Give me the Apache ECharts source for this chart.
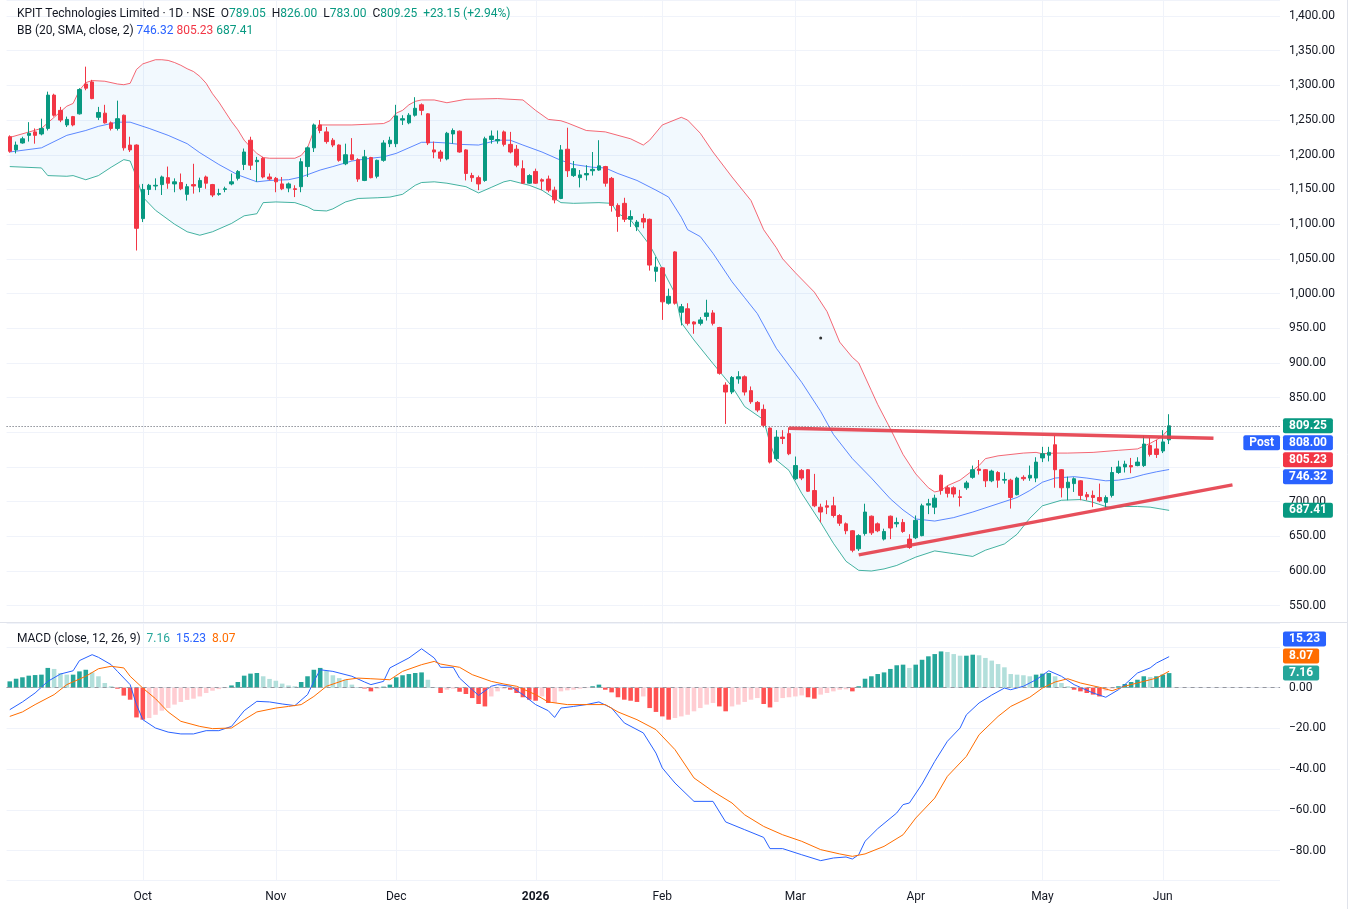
<!DOCTYPE html>
<html>
<head>
<meta charset="utf-8">
<title>KPIT Technologies Limited · 1D · NSE</title>
<script src="https://cdn.jsdelivr.net/npm/echarts@6/dist/echarts.min.js"></script>
<style>
  html, body { margin: 0; padding: 0; background: #ffffff; }
  #chart { width: 1357px; height: 909px; }
</style>
</head>
<body>
<div id="chart"></div>
<script>
const FONT = 'Roboto, "Noto Sans", sans-serif'
const UP = '#089981'
const DOWN = '#F23645'
const BLUE = '#2962FF'
const ORANGE = '#FF6D00'
const GRID = '#f0f3fa'
const TEXT = '#131722'

// ---- data (bar numbers are 1-based trading days, Sep 2 2025 .. Jun 2 2026) ----
const categoryCount = 201 // 184 bars + empty space on the right
const monthTicks = [[22, 'Oct'], [43, 'Nov'], [62, 'Dec'], [84, '2026'], [104, 'Feb'], [125, 'Mar'], [144, 'Apr'], [164, 'May'], [183, 'Jun']]

const opens = [1226,1207,1217,1228,1233,1230,1238,1286,1264,1243,
  1255,1259,1302,1305,1254,1260,1246,1238,1257,1214,
  1214,1108,1150,1155,1157,1167,1158,1160,1143,1157,
  1153,1168,1157,1143,1150,1158,1166,1186,1221,1190,
  1195,1168,1166,1158,1152,1151,1154,1183,1210,1243,
  1233,1221,1214,1187,1200,1193,1163,1196,1169,1192,
  1216,1216,1250,1246,1257,1272,1259,1207,1204,1194,
  1230,1234,1207,1170,1167,1163,1222,1220,1233,1215,
  1208,1180,1159,1176,1164,1165,1149,1137,1208,1170,
  1167,1171,1177,1178,1183,1166,1127,1130,1107,1096,
  1108,1107,1032,1037,986,1060,973,978,959,957,
  967,972,951,868,858,877,880,860,843,833,
  806,762,793,798,733,745,746,716,692,694,
  694,680,668,658,632,654,679,668,646,679,
  668,670,646,648,651,695,692,738,720,720,
  707,720,735,747,746,730,742,731,731,710,
  735,734,734,763,767,782,746,720,726,730,
  710,709,706,699,709,742,750,752,752,752,
  781,776,773,789.05]
const closes = [1205,1214,1223,1231,1228,1238,1286,1257,1250,1251,
  1243,1294,1296,1281,1261,1246,1238,1252,1210,1207,
  1094,1150,1156,1156,1168,1159,1161,1151,1154,1155,
  1163,1159,1142,1144,1151,1161,1176,1204,1185,1192,
  1168,1165,1161,1151,1158,1150,1190,1210,1243,1235,
  1219,1214,1192,1200,1193,1165,1197,1167,1192,1217,
  1221,1256,1252,1257,1267,1264,1217,1204,1195,1231,
  1235,1204,1173,1167,1158,1223,1227,1222,1215,1204,
  1185,1159,1170,1159,1162,1149,1135,1207,1177,1180,
  1171,1173,1179,1184,1159,1127,1111,1107,1111,1103,
  1103,1041,1038,988,996,986,981,957,956,962,
  972,957,885,858,879,880,858,844,832,810,
  757,793,791,769,752,734,715,694,685,692,
  680,669,658,630,651,685,655,658,657,662,
  670,657,634,673,694,697,705,716,712,711,
  706,727,746,745,730,744,731,732,706,734,
  733,738,757,769,771,746,720,728,733,709,
  707,706,701,706,742,750,754,750,757,783,
  768,768,786.1,809.25]
const lows = [1203,1202,1216,1219,1216,1228,1235,1255,1247,1240,
  1241,1258,1293,1280,1250,1245,1235,1235,1206,1204,
  1062,1103,1142,1149,1142,1151,1146,1149,1134,1144,
  1146,1151,1139,1141,1146,1156,1163,1178,1178,1161,
  1166,1163,1146,1149,1146,1139,1146,1168,1204,1231,
  1216,1211,1190,1185,1192,1161,1162,1166,1166,1190,
  1211,1211,1243,1244,1255,1257,1214,1195,1190,1192,
  1216,1203,1163,1161,1149,1161,1216,1216,1212,1202,
  1182,1158,1158,1158,1149,1146,1130,1136,1168,1168,
  1153,1163,1170,1177,1154,1118,1089,1103,1096,1090,
  1094,1033,1017,962,984,984,954,954,942,954,
  961,954,883,812,855,870,853,841,829,807,
  755,759,783,767,731,731,714,692,670,682,
  677,665,653,627,629,651,652,656,644,646,
  663,655,632,646,650,682,682,710,706,706,
  693,717,733,739,721,728,720,726,690,709,
  730,730,728,757,758,720,706,702,714,702,
  702,692,699,690,706,740,742,741,751,750,
  765,763,770,783]
const highs = [1228,1219,1226,1247,1238,1252,1291,1288,1269,1255,
  1256,1296,1327,1308,1269,1272,1248,1278,1258,1226,
  1215,1158,1158,1166,1170,1183,1166,1173,1158,1187,
  1167,1170,1158,1151,1154,1173,1178,1209,1226,1197,
  1197,1173,1168,1168,1160,1156,1195,1212,1245,1250,
  1240,1224,1215,1216,1224,1195,1207,1197,1193,1221,
  1226,1272,1257,1260,1283,1274,1260,1219,1207,1233,
  1238,1235,1208,1174,1170,1226,1235,1235,1235,1233,
  1214,1192,1172,1180,1166,1170,1154,1214,1239,1191,
  1178,1185,1204,1221,1184,1168,1130,1138,1120,1106,
  1115,1108,1053,1038,1007,1061,985,986,960,966,
  991,976,952,872,881,888,882,866,845,840,
  807,803,803,807,765,747,747,740,697,702,
  707,682,670,659,653,697,680,670,661,680,
  677,675,653,680,697,704,710,739,723,722,
  717,730,752,760,747,746,744,742,733,736,
  738,752,764,779,779,795,747,736,735,731,
  714,716,726,709,750,759,759,763,764,795,
  792,789,803,826]
const postPrice = 808.00

// Bollinger Bands (20, SMA, 2): [bar, value]
const bbUpper = [[1,1225],[6,1238],[10,1270],[11,1274],[12,1293],[13,1304],[14,1307],[16,1306],[18,1302],[19,1301],
  [20,1303],[21,1323],[22,1331],[23,1334],[24,1337],[25,1337],[26,1336],[27,1333],[28,1329],[29,1324],
  [30,1320],[31,1313],[32,1303],[33,1288],[34,1276],[35,1262],[36,1248],[37,1236],[38,1221],[39,1211],
  [40,1202],[41,1196],[42,1195],[46,1195],[47,1199],[48,1210],[49,1235],[50,1243],[55,1243],[60,1245],
  [61,1249],[62,1260],[63,1264],[64,1272],[65,1277],[66,1279],[68,1279],[70,1275],[73,1280],[78,1281],
  [82,1279],[84,1264],[86,1251],[88,1249],[89,1246],[92,1235],[95,1233],[99,1223],[101,1214],[102,1221],
  [104,1243],[107,1254],[108,1250],[110,1231],[112,1204],[115,1168],[118,1134],[120,1092],[122,1066],[123,1050],
  [125,1030],[128,1002],[130,974],[132,930],[134,908],[135,900],[137,860],[138,840],[140,805],[142,768],
  [144,740],[146,720],[147,714],[148,716],[149,723],[151,731],[154,752],[155,762],[157,766],[161,770],
  [163,771],[164,769],[166,770],[168,770],[172,771],[176,774],[179,776],[181,784],[182,789],[183,795],[184,805.23]]
const bbBasis = [[1,1204],[6,1210],[10,1228],[13,1235],[15,1241],[18,1247],[20,1247],[23,1238],[26,1228],[29,1216],
  [31,1203],[34,1186],[37,1171],[40,1161],[42,1163],[45,1164],[47,1168],[50,1178],[52,1183],[55,1191],
  [58,1195],[60,1197],[62,1202],[64,1210],[66,1218],[68,1218],[70,1217],[72,1215],[75,1214],[78,1221],
  [80,1221],[82,1214],[85,1204],[88,1192],[90,1186],[93,1182],[95,1181],[97,1173],[100,1163],[103,1149],
  [105,1139],[107,1110],[108,1092],[110,1082],[112,1058],[115,1017],[117,994],[119,971],[122,921],[126,872],
  [129,830],[131,797],[134,762],[137,734],[140,704],[142,688],[144,675],[147,672],[150,677],[153,685],
  [157,697],[160,706],[162,716],[164,728],[166,734],[169,736],[171,734],[174,730],[176,731],[178,734],
  [180,739],[182,743],[184,746.32]]
const bbLower = [[1,1183],[6,1181],[7,1170],[10,1169],[11,1170],[13,1164],[15,1170],[17,1182],[19,1193],[20,1191],
  [21,1168],[22,1139],[24,1120],[27,1100],[29,1089],[31,1084],[33,1089],[36,1101],[38,1112],[40,1115],
  [41,1131],[43,1132],[46,1131],[48,1125],[49,1120],[51,1119],[52,1122],[54,1132],[56,1137],[59,1138],
  [61,1139],[63,1143],[65,1156],[66,1160],[68,1161],[70,1159],[73,1154],[75,1145],[77,1153],[79,1161],
  [80,1163],[83,1156],[85,1149],[88,1131],[90,1130],[94,1131],[96,1130],[97,1115],[99,1106],[102,1070],
  [103,1053],[106,1000],[107,958],[109,933],[112,899],[115,866],[117,837],[120,818],[121,784],[122,760],
  [124,745],[126,712],[129,670],[131,640],[133,614],[135,601],[137,600],[139,603],[141,608],[143,616],
  [144,620],[147,629],[150,625],[153,621],[155,630],[158,639],[160,653],[162,676],[164,694],[167,702],
  [170,703],[172,699],[174,693],[175,691],[177,693],[179,693],[181,692],[184,687.41]]

// MACD (close, 12, 26, 9)
const macdLine = [[1,-10.8],[3,-7.0],[5,-2.6],[7,3.1],[9,6.7],[11,8.3],[12,13.3],[14,16.2],[15,14.9],[17,11.3],
  [18,8.0],[20,1.5],[21,-8.3],[22,-15.7],[24,-19.8],[26,-21.8],[28,-22.7],[30,-22.7],[32,-21.1],[34,-21.1],
  [36,-19.0],[38,-11.3],[40,-6.7],[42,-7.0],[44,-8.0],[46,-8.8],[48,-3.4],[49,3.1],[50,8.8],[52,8.0],
  [55,5.6],[57,2.8],[58,1.5],[60,3.1],[61,9.7],[64,14.6],[66,19.1],[68,14.6],[69,10.0],[71,10.0],
  [72,4.7],[74,-1.0],[75,-3.8],[77,0.7],[78,1.5],[80,0.7],[82,-3.4],[84,-8.3],[86,-11.3],[87,-14.6],
  [88,-10.0],[90,-9.2],[92,-8.3],[94,-7.0],[96,-10.0],[98,-17.3],[101,-22.2],[103,-32.1],[104,-39.4],[106,-46.8],
  [109,-55.8],[112,-55.8],[114,-65.9],[117,-69.7],[120,-73.5],[121,-79.0],[123,-79.0],[126,-82.0],[129,-84.9],[131,-83.6],
  [133,-83.1],[134,-84.1],[135,-82.0],[136,-75.4],[138,-69.2],[141,-61.5],[142,-57.4],[143,-56.6],[145,-47.3],[147,-36.2],
  [149,-26.3],[151,-19.8],[152,-13.3],[154,-7.5],[156,-3.6],[158,-0.2],[159,-1.0],[161,0.7],[163,3.9],[165,8.3],
  [167,5.6],[169,1.5],[172,-2.6],[174,-4.7],[176,-1.0],[177,1.5],[179,7.2],[181,9.7],[182,12.1],[184,15.23]]
const signalLine = [[1,-14.1],[3,-11.9],[5,-8.3],[8,-3.4],[10,1.5],[13,5.6],[15,9.3],[17,10.5],[19,9.7],[20,5.6],
  [22,-0.2],[24,-5.4],[26,-11.9],[28,-16.5],[31,-19.0],[33,-20.1],[36,-19.8],[38,-15.7],[40,-11.9],[43,-10.0],
  [45,-9.2],[47,-8.3],[49,-4.3],[51,0.7],[54,3.9],[56,4.7],[58,4.4],[61,3.9],[63,8.0],[66,11.3],
  [68,12.9],[69,11.6],[72,10.0],[74,6.4],[77,3.1],[79,1.8],[81,0.7],[84,-3.4],[86,-7.0],[89,-8.3],
  [91,-8.3],[95,-8.3],[97,-11.9],[100,-15.7],[103,-20.6],[106,-30.4],[109,-44.3],[112,-50.9],[115,-56.6],[117,-62.4],
  [120,-68.1],[123,-72.2],[126,-75.4],[129,-79.5],[132,-81.6],[134,-82.8],[136,-81.6],[139,-77.9],[142,-72.2],[144,-64.0],
  [147,-54.2],[149,-43.5],[152,-33.7],[154,-23.1],[157,-14.1],[159,-9.2],[162,-4.7],[164,-0.2],[166,2.8],[168,4.4],
  [170,2.3],[173,0.2],[175,-1.5],[177,0.7],[179,2.3],[182,4.7],[184,8.07]]
const histogram = [3.1,4.4,5.1,5.9,6.2,6.4,9.7,9.2,7.2,6.4,
  6.4,8.0,8.8,7.5,5.6,2.3,0.7,-0.5,-3.9,-5.9,
  -14.6,-15.7,-14.9,-13.3,-11.3,-10.0,-8.3,-7.0,-6.0,-5.4,
  -4.3,-2.6,-1.5,-0.7,-0.2,1.1,2.8,5.9,6.9,7.2,
  5.6,4.3,3.4,2.0,1.1,0.7,2.8,5.6,8.8,9.7,
  8.3,6.1,4.7,3.9,1.5,0.3,-0.4,-1.8,-0.5,0.5,
  1.5,5.1,6.1,6.7,7.2,7.5,3.9,0.2,-2.6,-1.0,
  -0.5,-2.0,-3.1,-5.1,-8.0,-9.2,-4.3,-1.8,-0.5,-1.0,
  -2.6,-4.7,-5.9,-6.4,-4.3,-7.5,-7.5,-1.8,-1.3,-1.0,
  -0.5,-0.2,0.7,1.5,-1.0,-2.3,-4.7,-5.9,-6.4,-7.0,
  -4.3,-10.0,-11.9,-14.1,-15.7,-14.9,-14.1,-13.3,-11.6,-10.0,
  -8.3,-7.5,-9.2,-11.6,-9.2,-8.3,-7.0,-5.9,-5.1,-8.0,
  -9.7,-7.0,-5.1,-4.7,-4.3,-3.8,-4.7,-5.4,-3.4,-2.6,
  -1.8,-1.0,-0.8,-1.8,0.7,4.4,5.6,6.7,7.5,9.2,
  11.0,11.3,9.7,11.3,13.7,15.4,16.5,17.8,17.5,16.5,
  15.7,15.7,16.2,15.9,14.6,13.3,11.6,10.0,6.7,6.4,
  6.1,5.6,6.4,6.9,7.2,5.6,2.3,0.7,-1.0,-1.8,
  -2.6,-3.4,-4.3,-1.5,-0.5,0.7,1.8,2.8,3.9,5.6,
  5.2,5.6,6.4,7.16]

// drawings on the chart: [bar, price]
const resistanceLine = [[124, 805.7], [191, 791.3]]
const supportLine = [[135, 623.3], [194, 724.2]]
const markerDot = [[129, 936]]

// ---- helpers ----
const categories = Array.from({ length: categoryCount }, (_, i) => String(i))
const monthLabel = {}
monthTicks.forEach(([b, t]) => { monthLabel[b - 1] = t })
const toIdx = (pts) => pts.map(([b, v]) => [b - 1, v])
const fmt2 = (v) => Number(v).toLocaleString('en-US', { minimumFractionDigits: 2, maximumFractionDigits: 2 })
const fmtAxis = (v) => (v < 0 ? '\u2212' + fmt2(-v) : fmt2(v))
const hiddenPriceLabels = [800, 750]
const hiddenMacdLabels = [20]

const candleData = opens.map((o, i) => [o, closes[i], lows[i], highs[i]])
const histData = histogram.map((v, i) => {
  const prev = i > 0 ? histogram[i - 1] : v
  let color
  if (v >= 0) color = v >= prev ? '#26A69A' : '#B2DFDB'
  else color = v < prev ? '#FF5252' : '#FFCDD2'
  return { value: [i, v], itemStyle: { color } }
})

const last = closes.length - 1
const lastClose = closes[last]
const change = lastClose - closes[last - 1]
const changePct = change / closes[last - 1] * 100
const upperLast = bbUpper[bbUpper.length - 1][1]
const basisLast = bbBasis[bbBasis.length - 1][1]
const lowerLast = bbLower[bbLower.length - 1][1]
const macdLast = macdLine[macdLine.length - 1][1]
const signalLast = signalLine[signalLine.length - 1][1]
const histLast = histogram[histogram.length - 1]

const MAIN = { left: 6.6, right: 77, top: 0, height: 622 }
const LOWER = { left: 6.6, right: 77, top: 623, height: 257 }

const monthGridSeries = (k, yRef) => ({
  type: 'custom', xAxisIndex: k, yAxisIndex: k, z: 0, silent: true,
  data: monthTicks.map(([b]) => [b - 1, yRef]),
  renderItem: (params, api) => {
    const x = Math.round(api.coord([api.value(0), yRef])[0]) + 0.5
    const cs = params.coordSys
    return { type: 'line', shape: { x1: x, y1: cs.y, x2: x, y2: cs.y + cs.height }, style: { stroke: GRID, lineWidth: 1 } }
  }
})

const trendSeries = (pts) => ({
  type: 'line', xAxisIndex: 0, yAxisIndex: 0, z: 6, silent: true,
  data: toIdx(pts), showSymbol: false,
  lineStyle: { color: '#E5404D', width: 3.5, opacity: 0.92 }
})

const chart = echarts.init(document.getElementById('chart'))

const option = {
  animation: false,
  backgroundColor: '#ffffff',
  textStyle: { fontFamily: FONT },
  title: [
    {
      left: 17, top: 8, padding: 0,
      text: 'KPIT Technologies Limited \u00b7 1D \u00b7 NSE  O{u|' + fmt2(opens[last]) + '}  H{u|' + fmt2(highs[last]) +
        '}  L{u|' + fmt2(lows[last]) + '}  C{u|' + fmt2(lastClose) + '}  {u|+' + fmt2(change) + ' (+' + changePct.toFixed(2) + '%)}',
      textStyle: { fontFamily: FONT, fontSize: 12, fontWeight: 'normal', color: TEXT, rich: { u: { color: UP, fontFamily: FONT, fontSize: 12 } } }
    },
    {
      left: 17, top: 25, padding: 0,
      text: 'BB (20, SMA, close, 2) {b|' + fmt2(basisLast) + '} {r|' + fmt2(upperLast) + '} {g|' + fmt2(lowerLast) + '}',
      textStyle: {
        fontFamily: FONT, fontSize: 12, fontWeight: 'normal', color: TEXT,
        rich: { b: { color: BLUE, fontFamily: FONT, fontSize: 12 }, r: { color: DOWN, fontFamily: FONT, fontSize: 12 }, g: { color: UP, fontFamily: FONT, fontSize: 12 } }
      }
    },
    {
      left: 17, top: 633, padding: 0,
      text: 'MACD (close, 12, 26, 9)  {h|' + fmt2(histLast) + '}  {m|' + fmt2(macdLast) + '}  {s|' + fmt2(signalLast) + '}',
      textStyle: {
        fontFamily: FONT, fontSize: 12, fontWeight: 'normal', color: TEXT,
        rich: { h: { color: '#26A69A', fontFamily: FONT, fontSize: 12 }, m: { color: BLUE, fontFamily: FONT, fontSize: 12 }, s: { color: ORANGE, fontFamily: FONT, fontSize: 12 } }
      }
    }
  ],
  grid: [MAIN, LOWER],
  xAxis: [
    {
      gridIndex: 0, type: 'category', data: categories, boundaryGap: true,
      axisLine: { show: false }, axisTick: { show: false }, axisLabel: { show: false }, splitLine: { show: false }
    },
    {
      gridIndex: 1, type: 'category', data: categories, boundaryGap: true,
      axisLine: { show: true, lineStyle: { color: '#e0e3eb' } }, axisTick: { show: false }, splitLine: { show: false },
      axisLabel: {
        interval: (i) => monthLabel[i] !== undefined,
        formatter: (v) => (monthLabel[Number(v)] === '2026' ? '{b|2026}' : monthLabel[Number(v)] || ''),
        margin: 11, color: TEXT, fontSize: 12, fontFamily: FONT,
        rich: { b: { fontWeight: 'bold', fontSize: 12, fontFamily: FONT, color: TEXT } }
      }
    }
  ],
  yAxis: [
    {
      gridIndex: 0, type: 'value', position: 'right', min: 526.5, max: 1423.1, splitNumber: 18, scale: true,
      axisLine: { show: false }, axisTick: { show: false },
      splitLine: { lineStyle: { color: GRID } },
      axisLabel: {
        showMinLabel: false, showMaxLabel: false, margin: 9, align: 'left',
        color: TEXT, fontSize: 12, fontFamily: FONT,
        formatter: (v) => (hiddenPriceLabels.includes(v) ? '' : fmtAxis(v))
      }
    },
    {
      gridIndex: 1, type: 'value', position: 'right', min: -94.4, max: 31.75, splitNumber: 6,
      axisLine: { show: false }, axisTick: { show: false },
      splitLine: { lineStyle: { color: GRID } },
      axisLabel: {
        showMinLabel: false, showMaxLabel: false, margin: 9, align: 'left',
        color: TEXT, fontSize: 12, fontFamily: FONT,
        formatter: (v) => (hiddenMacdLabels.includes(v) ? '' : fmtAxis(v))
      }
    }
  ],
  series: [
    monthGridSeries(0, 1000),
    monthGridSeries(1, 0),
    {
      // band background between upper and lower
      type: 'custom', xAxisIndex: 0, yAxisIndex: 0, z: 1, silent: true,
      data: [[0, 1000]],
      renderItem: (params, api) => {
        const top = bbUpper.map(([b, v]) => api.coord([b - 1, v]))
        const bottom = bbLower.slice().reverse().map(([b, v]) => api.coord([b - 1, v]))
        return { type: 'polygon', shape: { points: top.concat(bottom) }, style: { fill: 'rgba(33,150,243,0.06)' } }
      }
    },
    {
      name: 'BB upper', type: 'line', xAxisIndex: 0, yAxisIndex: 0, z: 2, silent: true,
      data: toIdx(bbUpper), showSymbol: false, lineStyle: { color: DOWN, width: 1, opacity: 0.75 }
    },
    {
      name: 'BB basis', type: 'line', xAxisIndex: 0, yAxisIndex: 0, z: 2, silent: true,
      data: toIdx(bbBasis), showSymbol: false, lineStyle: { color: BLUE, width: 1, opacity: 0.75 }
    },
    {
      name: 'BB lower', type: 'line', xAxisIndex: 0, yAxisIndex: 0, z: 2, silent: true,
      data: toIdx(bbLower), showSymbol: false, lineStyle: { color: UP, width: 1, opacity: 0.75 }
    },
    {
      name: 'KPIT', type: 'candlestick', xAxisIndex: 0, yAxisIndex: 0, z: 4,
      data: candleData, barWidth: 4,
      itemStyle: { color: UP, color0: DOWN, borderColor: UP, borderColor0: DOWN, borderWidth: 1 },
      markLine: {
        silent: true, symbol: 'none', label: { show: false },
        lineStyle: { color: '#555a66', type: [1, 2], width: 1 },
        data: [{ yAxis: lastClose }]
      }
    },
    trendSeries(resistanceLine),
    trendSeries(supportLine),
    {
      type: 'scatter', xAxisIndex: 0, yAxisIndex: 0, z: 5, silent: true,
      data: toIdx(markerDot), symbolSize: 3, itemStyle: { color: '#000' }
    },
    {
      name: 'Histogram', type: 'bar', xAxisIndex: 1, yAxisIndex: 1, z: 2,
      data: histData, barWidth: '72%',
      markLine: {
        silent: true, symbol: 'none', label: { show: false },
        lineStyle: { color: '#9598a1', type: [4, 4], width: 1 },
        data: [{ yAxis: 0 }]
      }
    },
    {
      name: 'MACD', type: 'line', xAxisIndex: 1, yAxisIndex: 1, z: 3, silent: true,
      data: toIdx(macdLine), showSymbol: false, lineStyle: { color: BLUE, width: 1 }
    },
    {
      name: 'Signal', type: 'line', xAxisIndex: 1, yAxisIndex: 1, z: 3, silent: true,
      data: toIdx(signalLine), showSymbol: false, lineStyle: { color: ORANGE, width: 1 }
    }
  ]
}

chart.setOption(option)

// ---- price scale tags, stacked like the reference ----
const tag = (x, y, text, color, align) => ({
  type: 'text', x, y, z: 100, silent: true,
  style: {
    text, fill: '#ffffff', fontFamily: FONT, fontSize: 12, fontWeight: 'bold',
    backgroundColor: color, padding: [2, 6, 1, 6], borderRadius: 2,
    align: align || 'left', verticalAlign: 'middle'
  }
})

const placeTags = () => {
  const graphics = []
  const axisX = chart.getWidth() - MAIN.right
  // pane separator and right border
  graphics.push({ type: 'line', silent: true, z: 50, shape: { x1: 0, y1: MAIN.top + MAIN.height + 0.5, x2: 1347, y2: MAIN.top + MAIN.height + 0.5 }, style: { stroke: '#e0e3eb', lineWidth: 1 } })
  graphics.push({ type: 'line', silent: true, z: 50, shape: { x1: 1347.5, y1: 0, x2: 1347.5, y2: 909 }, style: { stroke: '#e0e3eb', lineWidth: 1 } })

  const mainTags = [
    { value: lastClose, color: UP },
    { value: postPrice, color: BLUE, post: true },
    { value: upperLast, color: DOWN },
    { value: basisLast, color: BLUE },
    { value: lowerLast, color: UP }
  ]
  let prev = -Infinity
  mainTags.forEach((t) => {
    let y = chart.convertToPixel({ yAxisIndex: 0 }, t.value)
    y = Math.max(y, prev + 17)
    prev = y
    graphics.push(tag(axisX + 3, y, fmt2(t.value), t.color))
    if (t.post) graphics.push(tag(axisX, y, 'Post', BLUE, 'right'))
  })

  const macdTags = [
    { value: macdLast, color: BLUE },
    { value: signalLast, color: ORANGE },
    { value: histLast, color: '#26A69A' }
  ]
  let below = Infinity
  for (let i = macdTags.length - 1; i >= 0; i--) {
    let y = chart.convertToPixel({ yAxisIndex: 1 }, macdTags[i].value)
    y = Math.min(y, below - 17)
    below = y
    graphics.push(tag(axisX + 3, y, fmt2(macdTags[i].value), macdTags[i].color))
  }
  chart.setOption({ graphic: graphics })
}
placeTags()
</script>
</body>
</html>
